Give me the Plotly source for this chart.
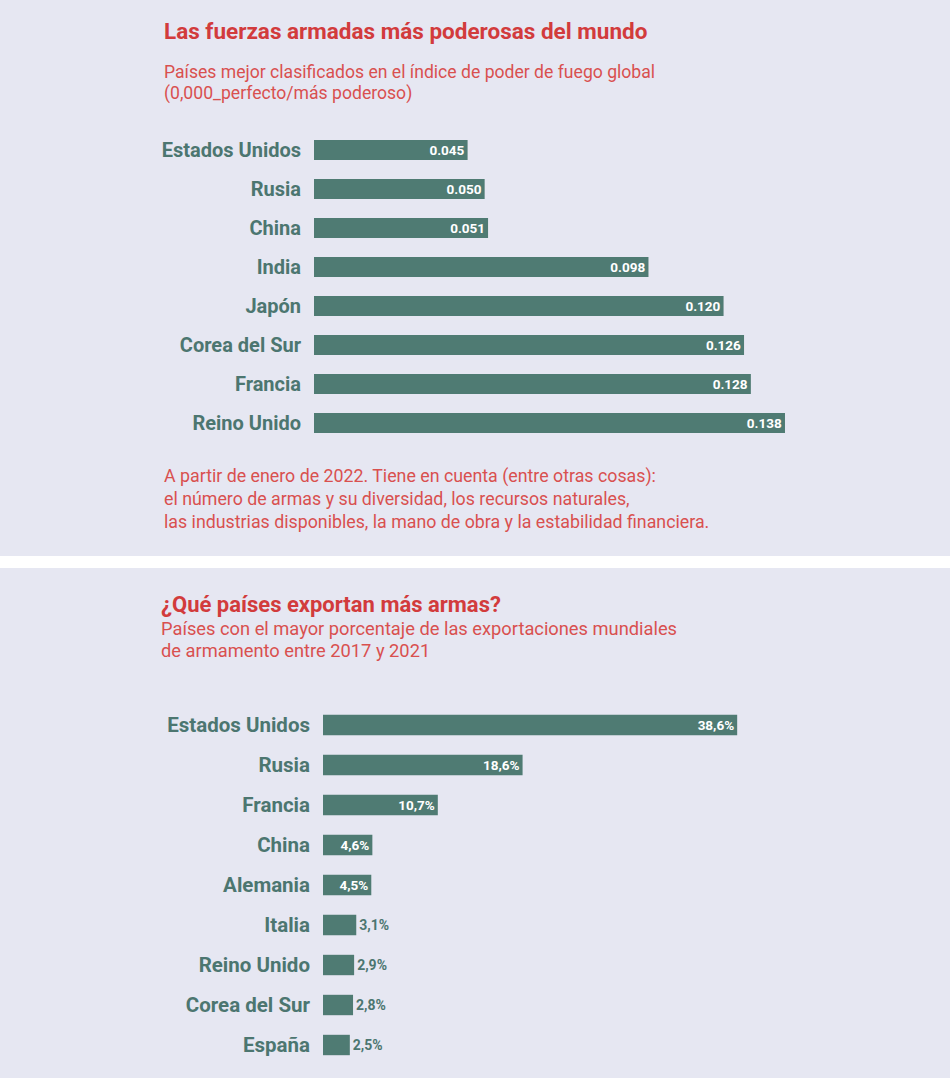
import plotly.graph_objects as go

W, H = 950, 1078

# ---- data ----
fuerzas_paises = ["Estados Unidos", "Rusia", "China", "India", "Japón",
                  "Corea del Sur", "Francia", "Reino Unido"]
fuerzas_valores = [0.045, 0.050, 0.051, 0.098, 0.120, 0.126, 0.128, 0.138]

export_paises = ["Estados Unidos", "Rusia", "Francia", "China", "Alemania",
                 "Italia", "Reino Unido", "Corea del Sur", "España"]
export_valores = [38.6, 18.6, 10.7, 4.6, 4.5, 3.1, 2.9, 2.8, 2.5]

title1 = "Las fuerzas armadas más poderosas del mundo"
subtitle1 = ["Países mejor clasificados en el índice de poder de fuego global",
             "(0,000_perfecto/más poderoso)"]
note1 = ["A partir de enero de 2022. Tiene en cuenta (entre otras cosas):",
         "el número de armas y su diversidad, los recursos naturales,",
         "las industrias disponibles, la mano de obra y la estabilidad financiera."]
title2 = "¿Qué países exportan más armas?"
subtitle2 = ["Países con el mayor porcentaje de las exportaciones mundiales",
             "de armamento entre 2017 y 2021"]

# ---- style ----
BG = "rgb(230,231,242)"
BAR = "#4f7b73"
LABEL = "#4c7670"
RED_T = "#d23b3c"
RED_S = "#d9504f"
FONT = "Roboto"

def px_x(p):
    return p / W

def px_y(p):
    return 1 - p / H

fig = go.Figure()

# top chart
fig.add_trace(go.Bar(
    x=fuerzas_valores, y=fuerzas_paises, orientation="h",
    marker=dict(color=BAR, line=dict(width=0)),
    text=[f"{v:.3f}" for v in fuerzas_valores],
    textposition="inside", insidetextanchor="end", constraintext="none",
    textfont=dict(family=FONT, size=13.5, color="white", weight="bold"),
    cliponaxis=False, xaxis="x", yaxis="y", hoverinfo="skip",
))

# bottom chart
fmt2 = [f"{v:.1f}".replace(".", ",") + "%" for v in export_valores]
pos2 = ["inside" if v >= 4.5 else "outside" for v in export_valores]
fig.add_trace(go.Bar(
    x=export_valores, y=export_paises, orientation="h",
    marker=dict(color=BAR, line=dict(width=0)),
    text=fmt2, textposition=pos2, insidetextanchor="end", constraintext="none",
    insidetextfont=dict(family=FONT, size=13.5, color="white", weight="bold"),
    outsidetextfont=dict(family=FONT, size=14, color=LABEL, weight="bold"),
    cliponaxis=False, xaxis="x2", yaxis="y2", hoverinfo="skip",
))

# axis geometry (pixel based)
x1_start, x1_scale = 314, 3413.0   # px per unit
x1_max = 0.16
x2_start, x2_scale = 323, 10.73
x2_max = 50

y1_top, y1_bot = 130.5, 442.5
y2_top, y2_bot = 705, 1065

fig.update_layout(
    width=W, height=H,
    margin=dict(l=0, r=0, t=0, b=0),
    paper_bgcolor="white", plot_bgcolor="rgba(0,0,0,0)",
    showlegend=False,
    bargap=0.49,
    font=dict(family=FONT),
    xaxis=dict(domain=[px_x(x1_start), px_x(x1_start + x1_max * x1_scale)],
               range=[0, x1_max], visible=False, fixedrange=True),
    yaxis=dict(domain=[px_y(y1_bot), px_y(y1_top)], autorange="reversed",
               anchor="x", showgrid=False, zeroline=False, showline=False,
               ticks="", ticklabelstandoff=12,
               tickfont=dict(family=FONT, size=20, color=LABEL, weight="bold")),
    xaxis2=dict(domain=[px_x(x2_start), px_x(x2_start + x2_max * x2_scale)],
                range=[0, x2_max], visible=False, fixedrange=True, anchor="y2"),
    yaxis2=dict(domain=[px_y(y2_bot), px_y(y2_top)], autorange="reversed",
                anchor="x2", showgrid=False, zeroline=False, showline=False,
                ticks="", ticklabelstandoff=12,
                tickfont=dict(family=FONT, size=20.5, color=LABEL, weight="bold")),
)

# panel backgrounds
fig.add_shape(type="rect", xref="paper", yref="paper", layer="below",
              x0=0, x1=1, y0=px_y(556), y1=1, fillcolor=BG, line_width=0)
fig.add_shape(type="rect", xref="paper", yref="paper", layer="below",
              x0=0, x1=1, y0=0, y1=px_y(568), fillcolor=BG, line_width=0)

def note(text, x, y, size, color, bold=False):
    fig.add_annotation(text=text, x=px_x(x), y=px_y(y), xref="paper", yref="paper",
                       xanchor="left", yanchor="middle", showarrow=False,
                       font=dict(family=FONT, size=size, color=color,
                                 weight="bold" if bold else "normal"))

note(title1, 162, 31, 22.5, RED_T, bold=True)
for i, t in enumerate(subtitle1):
    note(t, 162, 72 + 22 * i, 17.6, RED_S)
for i, t in enumerate(note1):
    note(t, 162, 476 + 22.5 * i, 17.8, RED_S)
note(title2, 159, 604, 22, RED_T, bold=True)
for i, t in enumerate(subtitle2):
    note(t, 159, 628 + 22 * i, 18.3, RED_S)

fig.write_html("out.html")
